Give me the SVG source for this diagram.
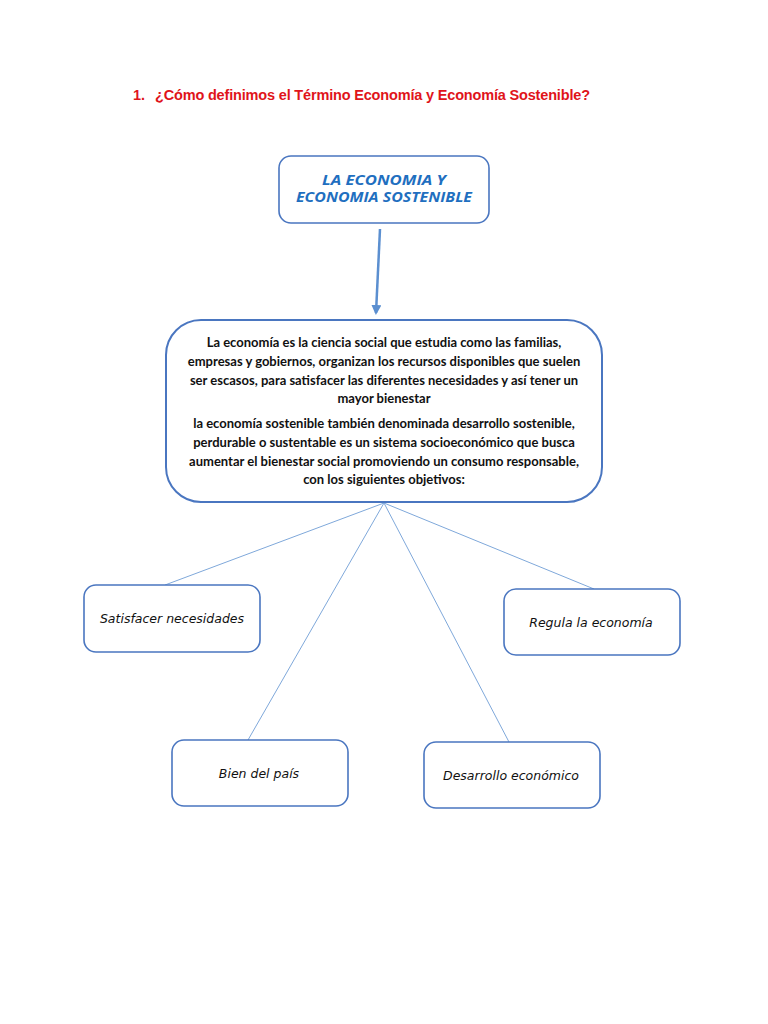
<svg xmlns="http://www.w3.org/2000/svg" width="768" height="1024" viewBox="0 0 768 1024">
<style>
.box{fill:#fff;stroke:#4a76c0;stroke-width:1.6}
.main{fill:#fff;stroke:#4a76c0;stroke-width:2}
.link{stroke:#7fa8da;stroke-width:1;fill:none}
.body{font-family:Lato,"Open Sans",sans-serif;font-weight:bold;font-size:13px;fill:#111;text-anchor:middle}
.leaf{font-family:"DejaVu Sans",Verdana,sans-serif;font-style:italic;font-size:12.5px;fill:#111;text-anchor:middle}
.head{font-family:"Open Sans","Liberation Sans",sans-serif;font-weight:bold;font-style:italic;font-size:13.5px;fill:#1f6fc0;text-anchor:middle}
</style>
<defs>
<marker id="arr" viewBox="0 0 10 10" refX="8" refY="5" markerWidth="4" markerHeight="4" orient="auto">
<path d="M0,0 L10,5 L0,10 z" fill="#5b8fd0"/>
</marker>
</defs>
<rect width="768" height="1024" fill="#fff"/>
<text x="133" y="100" font-family="Liberation Sans,Arial,sans-serif" font-weight="bold" font-size="14.5" fill="#e0141a">1.</text>
<text x="155" y="100" font-family="Liberation Sans,Arial,sans-serif" font-weight="bold" font-size="14.5" fill="#e0141a" textLength="435" lengthAdjust="spacing">¿Cómo definimos el Término Economía y Economía Sostenible?</text>
<g id="connectors">
<line x1="380" y1="229" x2="376" y2="313" stroke="#5b8fd0" stroke-width="2.5" marker-end="url(#arr)"/>
<line class="link" x1="384" y1="503" x2="165" y2="585"/>
<line class="link" x1="384" y1="503" x2="248" y2="740"/>
<line class="link" x1="384" y1="503" x2="509" y2="742"/>
<line class="link" x1="384" y1="503" x2="594" y2="589"/>
</g>
<g id="top">
<rect class="box" x="279" y="156" width="210" height="67" rx="12"/>
<text class="head" x="384" y="185" textLength="124" lengthAdjust="spacingAndGlyphs">LA ECONOMIA Y</text>
<text class="head" x="384" y="202" textLength="176" lengthAdjust="spacingAndGlyphs">ECONOMIA SOSTENIBLE</text>
</g>
<g id="main">
<rect class="main" x="166" y="320" width="436" height="182" rx="35"/>
<text class="body" x="384" y="347">La economía es la ciencia social que estudia como las familias,</text>
<text class="body" x="384" y="366">empresas y gobiernos, organizan los recursos disponibles que suelen</text>
<text class="body" x="384" y="385">ser escasos, para satisfacer las diferentes necesidades y así tener un</text>
<text class="body" x="384" y="403">mayor bienestar</text>
<text class="body" x="384" y="428">la economía sostenible también denominada desarrollo sostenible,</text>
<text class="body" x="384" y="447">perdurable o sustentable es un sistema socioeconómico que busca</text>
<text class="body" x="384" y="466">aumentar el bienestar social promoviendo un consumo responsable,</text>
<text class="body" x="384" y="484">con los siguientes objetivos:</text>
</g>
<g id="satisfacer">
<rect class="box" x="84" y="585" width="176" height="67" rx="12"/>
<text class="leaf" x="172" y="623">Satisfacer necesidades</text>
</g>
<g id="regula">
<rect class="box" x="504" y="589" width="176" height="66" rx="12"/>
<text class="leaf" x="591" y="627">Regula la economía</text>
</g>
<g id="bien">
<rect class="box" x="172" y="740" width="176" height="66" rx="12"/>
<text class="leaf" x="259" y="778">Bien del país</text>
</g>
<g id="desarrollo">
<rect class="box" x="424" y="742" width="176" height="66" rx="12"/>
<text class="leaf" x="511" y="780">Desarrollo económico</text>
</g>
</svg>
